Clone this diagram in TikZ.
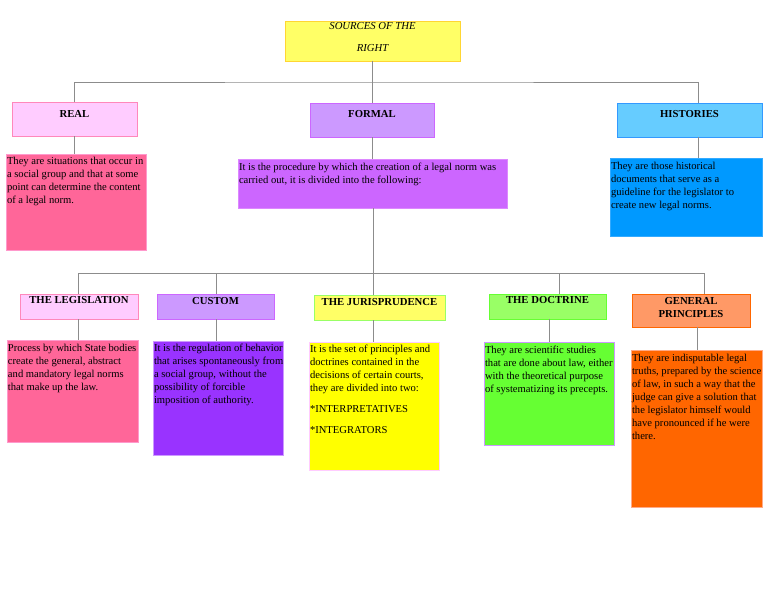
\documentclass[tikz,border=0pt]{standalone}
\usepackage{fontspec}
\setmainfont{Liberation Serif}
\definecolor{topfill}{HTML}{FFFF66}\definecolor{topdraw}{HTML}{FFD633}
\definecolor{pinkfill}{HTML}{FFCCFF}\definecolor{pinkdraw}{HTML}{FF88BB}
\definecolor{rosefill}{HTML}{FF6699}\definecolor{rosedraw}{HTML}{FF99CC}
\definecolor{lilacfill}{HTML}{CC99FF}\definecolor{lilacdraw}{HTML}{CC66FF}
\definecolor{violetfill}{HTML}{CC66FF}\definecolor{violetdraw}{HTML}{DD88FF}
\definecolor{skyfill}{HTML}{66CCFF}\definecolor{skydraw}{HTML}{3399FF}
\definecolor{bluefill}{HTML}{0099FF}\definecolor{bluedraw}{HTML}{33AAFF}
\definecolor{purplefill}{HTML}{9933FF}\definecolor{purpledraw}{HTML}{CC99FF}
\definecolor{jurfill}{HTML}{FFFF66}\definecolor{jurdraw}{HTML}{99FF66}
\definecolor{yelfill}{HTML}{FFFF00}\definecolor{yeldraw}{HTML}{FFCCFF}
\definecolor{lgreenfill}{HTML}{99FF66}\definecolor{lgreendraw}{HTML}{66FF33}
\definecolor{greenfill}{HTML}{66FF33}\definecolor{greendraw}{HTML}{CC99FF}
\definecolor{lorangefill}{HTML}{FF9966}\definecolor{lorangedraw}{HTML}{FF6600}
\definecolor{orangefill}{HTML}{FF6600}\definecolor{orangedraw}{HTML}{FFAA88}
\definecolor{linegray}{HTML}{8C8C8C}
\newcommand\mybox[3]{\parbox[t][#2pt][t]{#1pt}{#3}}
\newcommand\desctext{\fontsize{10.6}{13}\selectfont\raggedright}
\newcommand\titletext{\fontsize{10.7}{13}\selectfont\bfseries\centering}
\begin{document}
\begin{tikzpicture}[x=1pt,y=-1pt,
  box/.style={draw, line width=0.8pt, inner xsep=1pt, inner ysep=0pt, outer sep=0pt, anchor=north west},
  conn/.style={draw=linegray, line width=0.9pt}]
\useasboundingbox (0,0) rectangle (768,594);
% top
\node[box, fill=topfill, draw=topdraw] (top) at (285,21) {\mybox{173}{40}{\fontsize{10.7}{22}\selectfont\itshape\centering\rule{0pt}{8.5pt}SOURCES OF THE\\RIGHT}};
% level 1
\node[box, fill=pinkfill, draw=pinkdraw] (real) at (12,102) {\mybox{123}{34}{\titletext\rule{0pt}{15pt}REAL}};
\node[box, fill=lilacfill, draw=lilacdraw] (formal) at (310,103) {\mybox{122}{34}{\titletext\rule{0pt}{14pt}FORMAL}};
\node[box, fill=skyfill, draw=skydraw] (hist) at (617,103) {\mybox{143}{34}{\titletext\rule{0pt}{14pt}HISTORIES}};
\node[box, fill=rosefill, draw=rosedraw] (reald) at (6,154) {\mybox{138}{96}{\desctext\rule{0pt}{10pt}They are situations that occur in\\a social group and that at some\\point can determine the content\\of a legal norm.}};
\node[box, fill=violetfill, draw=violetdraw] (formald) at (238,159) {\mybox{267}{49}{\desctext\rule{0pt}{11.5pt}It is the procedure by which the creation of a legal norm was\\carried out, it is divided into the following:}};
\node[box, fill=bluefill, draw=bluedraw] (histd) at (610,158) {\mybox{150}{78}{\desctext\rule{0pt}{11pt}They are those historical\\documents that serve as a\\guideline for the legislator to\\create new legal norms.}};
% level 2
\node[box, fill=pinkfill, draw=pinkdraw] (leg) at (20,294) {\mybox{116}{25}{\titletext\rule{0pt}{9pt}THE LEGISLATION}};
\node[box, fill=lilacfill, draw=lilacdraw] (cust) at (157,294) {\mybox{115}{25}{\titletext\rule{0pt}{10pt}CUSTOM}};
\node[box, fill=jurfill, draw=jurdraw] (jur) at (314,295) {\mybox{129}{25}{\titletext\rule{0pt}{10pt}THE JURISPRUDENCE}};
\node[box, fill=lgreenfill, draw=lgreendraw] (doct) at (489,294) {\mybox{115}{25}{\titletext\rule{0pt}{9pt}THE DOCTRINE}};
\node[box, fill=lorangefill, draw=lorangedraw] (gen) at (632,294) {\mybox{116}{33}{\titletext\rule{0pt}{10pt}GENERAL\\PRINCIPLES}};
\node[box, fill=rosefill, draw=rosedraw] (legd) at (7,340) {\mybox{129}{102}{\desctext\rule{0pt}{11pt}Process by which State bodies\\create the general, abstract\\and mandatory legal norms\\that make up the law.}};
\node[box, fill=purplefill, draw=purpledraw] (custd) at (153,341) {\mybox{128}{114}{\desctext\rule{0pt}{10pt}\mbox{It is the regulation of behavior}\\\mbox{that arises spontaneously from}\\a social group, without the\\possibility of forcible\\imposition of authority.}};
\node[box, fill=yelfill, draw=yeldraw] (jurd) at (309,342) {\mybox{128}{128}{\desctext\rule{0pt}{10pt}It is the set of principles and\\doctrines contained in the\\decisions of certain courts,\\they are divided into two:\\[8pt]*INTERPRETATIVES\\[8pt]*INTEGRATORS}};
\node[box, fill=greenfill, draw=greendraw] (doctd) at (484,342) {\mybox{128}{103}{\desctext\rule{0pt}{11pt}They are scientific studies\\\mbox{that are done about law, either}\\with the theoretical purpose\\of systematizing its precepts.}};
\node[box, fill=orangefill, draw=orangedraw] (gend) at (631,350) {\mybox{129}{157}{\desctext\rule{0pt}{11pt}They are indisputable legal\\\mbox{truths, prepared by the science}\\of law, in such a way that the\\judge can give a solution that\\the legislator himself would\\have pronounced if he were\\there.}};
% connectors
\coordinate (bus1) at (372,82);
\coordinate (bus2) at (373,273);
\draw[conn] (top.south -| bus1) -- (bus1);
\draw[conn] (real.north) |- (bus1) -| ([xshift=8.5pt]hist.north);
\draw[conn] (bus1) -- (formal.north -| bus1);
\draw[conn] (real.south) -- (real.south |- reald.north);
\draw[conn] (formal.south -| bus1) -- (formald.north -| bus1);
\draw[conn] ([xshift=8.5pt]hist.south) -- ([xshift=8.5pt]hist.south |- histd.north);
\draw[conn] (formald.south -| bus2) -- (jur.north -| bus2);
\coordinate (dleg) at (78,273);
\coordinate (dcust) at (216,273);
\coordinate (ddoct) at (559,273);
\coordinate (dgen) at (704,273);
\draw[conn] (leg.north -| dleg) |- (dgen) -- (gen.north -| dgen);
\draw[conn] (dcust) -- (cust.north -| dcust);
\draw[conn] (ddoct) -- (doct.north -| ddoct);
\draw[conn] (leg.south -| dleg) -- (legd.north -| dleg);
\draw[conn] (cust.south -| dcust) -- (custd.north -| dcust);
\draw[conn] (jur.south -| bus2) -- (jurd.north -| bus2);
\draw[conn] (doct.south -| 549,0) -- (doctd.north -| 549,0);
\draw[conn] (gen.south -| 697,0) -- (gend.north -| 697,0);
\end{tikzpicture}
\end{document}
